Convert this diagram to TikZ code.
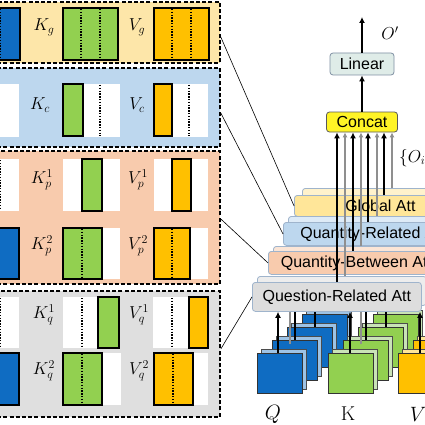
\documentclass[tikz,border=0pt]{standalone}
\usepackage{fontspec}
\newfontfamily\arialf{Liberation Sans}
\usetikzlibrary{arrows.meta}
\definecolor{pY}{HTML}{FDE6A9}
\definecolor{pB}{HTML}{BDD7EE}
\definecolor{pO}{HTML}{F8CBAD}
\definecolor{pG}{HTML}{DFDFDF}
\definecolor{cB}{HTML}{0F6CC2}
\definecolor{cBl}{HTML}{9DC3E6}
\definecolor{cG}{HTML}{92D050}
\definecolor{cGl}{HTML}{C9E3B6}
\definecolor{cO}{HTML}{FFC000}
\definecolor{cOl}{HTML}{FFE699}
\definecolor{mYF}{HTML}{FFE699}
\definecolor{mYB}{HTML}{FFF2CC}
\definecolor{mBF}{HTML}{BDD7EE}
\definecolor{mBB}{HTML}{DEEBF7}
\definecolor{mOF}{HTML}{F8CBAD}
\definecolor{mOB}{HTML}{FBE5D6}
\definecolor{mGF}{HTML}{DDDDDD}
\definecolor{mGB}{HTML}{EDEDED}
\definecolor{edge}{HTML}{9FB4CC}
\definecolor{linF}{HTML}{DFECE8}
\definecolor{grayL}{HTML}{8F8F8F}
\newcommand\myW[4]{\fill[white] (#1,#2) rectangle (#3,#4);}
\newcommand\myC[5]{\draw[bar,fill=#5] (#1,#2) rectangle (#3,#4);}
\newcommand\myD[3]{\draw[dots] (#1,#2) -- (#1,#3);}
\begin{document}
\begin{tikzpicture}[x=1pt,y=-1pt,
  panel/.style={draw=black, line width=1.8pt, dash pattern=on 4pt off 2.2pt, rectangle, anchor=north west, inner sep=0pt},
  bar/.style={draw=black, line width=1.5pt},
  dots/.style={line width=1.7pt, dash pattern=on 1.4pt off 1.4pt},
  lab/.style={font=\fontsize{18}{20}\selectfont, inner sep=0pt},
  blab/.style={font=\fontsize{20}{22}\selectfont, inner sep=0pt},
  mod/.style={draw=edge, line width=0.8pt, rounded corners=3pt, anchor=north west, inner sep=0pt, font=\arialf\fontsize{16}{18}\selectfont},
  sq/.style={draw=black!80, line width=0.5pt, anchor=north west, minimum width=45pt, minimum height=40pt, inner sep=0pt},
  arr/.style={line width=2pt, -{Latex[length=6pt,width=6pt]}},
  garr/.style={line width=1.7pt, draw=grayL, -{Latex[length=5pt,width=5pt]}},
  conn/.style={line width=0.6pt, black}]
\useasboundingbox (0,0) rectangle (425,425);
\clip (0,0) rectangle (425,425);
\fill[white] (0,0) rectangle (425,425);

% ---------- left panels ----------
\node[panel, fill=pY, minimum width=229pt, minimum height=61pt] (P1) at (-10,1) {};
\node[panel, fill=pB, minimum width=229pt, minimum height=79pt] (P2) at (-10,67) {};
\node[panel, fill=pO, minimum width=229pt, minimum height=133pt] (P3) at (-10,150) {};
\node[panel, fill=pG, minimum width=229pt, minimum height=126pt] (P4) at (-10,290) {};

% panel 1
\myC{-5}{8}{20}{60}{cB} \myD{0}{9}{59}
\myC{63}{8}{118}{60}{cG} \myD{81}{9}{59} \myD{100}{9}{59}
\myC{154}{8}{209}{60}{cO} \myD{172}{9}{59} \myD{191}{9}{59}
\node[lab] (kg) at (44,27) {$K_g$};
\node[lab] (vg) at (137,27) {$V_g$};

% panel 2
\myW{-5}{84}{19}{137}
\myW{63}{84}{120}{137} \myC{63}{84}{83}{136}{cG} \myD{100}{85}{136}
\myW{154}{84}{208}{137} \myC{154}{84}{172}{136}{cO} \myD{189}{85}{136}
\node[lab] (kc) at (40,105) {$K_c$};
\node[lab] (vc) at (137,105) {$V_c$};

% panel 3
\myW{-5}{159}{19}{211} \myD{0}{160}{210}
\myW{63}{159}{120}{211} \myC{82}{159}{102}{211}{cG}
\myW{154}{159}{208}{211} \myC{172}{159}{191}{211}{cO}
\node[lab] (kp1) at (42,180) {$K_p^1$};
\node[lab] (vp1) at (138,180) {$V_p^1$};
\myC{-5}{228}{19}{279}{cB}
\myW{63}{228}{120}{279} \myC{63}{228}{102}{279}{cG} \myD{82}{229}{278}
\myW{154}{228}{208}{279} \myC{154}{228}{190}{279}{cO} \myD{172}{229}{278}
\node[lab] (kp2) at (42,246) {$K_p^2$};
\node[lab] (vp2) at (138,246) {$V_p^2$};

% panel 4
\myW{-5}{297}{19}{348} \myD{0}{298}{347}
\myW{63}{297}{120}{348} \myD{82}{298}{347} \myC{98}{297}{119}{348}{cG}
\myW{153}{297}{208}{348} \myD{172}{298}{347} \myC{189}{297}{208}{348}{cO}
\node[lab] (kq1) at (44,315) {$K_q^1$};
\node[lab] (vq1) at (139,315) {$V_q^1$};
\myC{-5}{353}{19}{405}{cB}
\myW{63}{353}{121}{405} \myC{63}{353}{102}{405}{cG} \myD{82}{354}{404}
\myW{154}{353}{208}{405} \myC{154}{353}{193}{405}{cO} \myD{173}{354}{404}
\node[lab] (kq2) at (44,371) {$K_q^2$};
\node[lab] (vq2) at (139,371) {$V_q^2$};

% ---------- stacks of Q, K, V ----------
\foreach \sx/\dk/\lt in {257/cB/cBl, 328/cG/cGl, 398/cO/cOl}{
  \foreach \k in {3,2,1}{
    \fill[\lt, draw=black!70, line width=0.4pt] (\sx+15*\k+4, 349-13*\k) rectangle ++(45,40);
    \fill[\dk, draw=black!80, line width=0.5pt] (\sx+15*\k, 353-13*\k) rectangle ++(45,40);
  }
  \fill[\lt, draw=black!70, line width=0.4pt] (\sx+4, 349) rectangle ++(45,40);
}
\node[sq, fill=cB] (qs) at (257,353) {};
\node[sq, fill=cG] (ks) at (328,353) {};
\node[sq, fill=cO] (vs) at (398,353) {};

% lines from back squares (mostly hidden behind the module)
\foreach \sx in {257,328,398}{
  \draw[line width=1.6pt, grayL] (\sx+33, 344) -- (\sx+33, 300);
  \draw[line width=1.8pt] (\sx+38, 340) -- (\sx+38, 300);
  \draw[line width=1.8pt] (\sx+58, 327) -- (\sx+58, 300);
}

% ---------- attention modules ----------
\node[mod, fill=mYB, minimum width=172pt, minimum height=21pt] (gB) at (302,188) {};
\node[mod, fill=mYF, minimum width=172pt, minimum height=21pt] (gF) at (294,195) {Global Att};
\node[mod, fill=mBB, minimum width=178pt, minimum height=23pt] (rB) at (288,216) {};
\node[mod, fill=mBF, minimum width=178pt, minimum height=23pt] (rF) at (283,222) {Quantity-Related Att};
\node[mod, fill=mOB, minimum width=174pt, minimum height=23pt] (bB) at (273,246) {};
\node[mod, fill=mOF, minimum width=176pt, minimum height=23pt] (bF) at (268,251) {Quantity-Between Att};
\node[mod, fill=mGB, minimum width=169pt, minimum height=29pt] (qB) at (257,276) {};
\node[mod, fill=mGF, minimum width=169pt, minimum height=29pt] (qF) at (252,282) {Question-Related Att};

% inputs to Question-Related Att
\draw[arr] (qs.north -| 278,0) -- (qF.south -| 278,0);
\draw[arr] (ks.north -| 350,0) -- (qF.south -| 350,0);
\draw[arr] (vs.north -| 420,0) -- (qF.south -| 420,0);

% ---------- concat / linear ----------
\node[draw=black!65, line width=0.8pt, rounded corners=3pt, fill=yellow!85!white, minimum width=71pt, minimum height=20pt, inner sep=0pt, font=\arialf\fontsize{16}{18}\selectfont] (cat) at (362,122) {Concat};
\node[draw=edge!80!black, line width=0.8pt, rounded corners=3pt, fill=linF, minimum width=64pt, minimum height=22pt, inner sep=0pt, font=\arialf\fontsize{16}{18}\selectfont] (lin) at (362,64) {Linear};
\coordinate (out) at (362,17);
\draw[arr] (cat) -- (lin);
\draw[arr] (lin) -- (out);
\node[lab] (op) at (390,33) {$O'$};
\node[lab, anchor=west] (oi) at (399,158) {$\{O_i\}$};

% outputs of modules to concat
\draw[garr] (qB.north -| 345,0) -- (cat.south -| 345,0);
\draw[garr] (bB.north -| 361,0) -- (cat.south -| 361,0);
\draw[garr] (rB.north -| 377,0) -- (cat.south -| 377,0);
\draw[garr] (gB.north -| 392,0) -- (cat.south -| 392,0);
\draw[arr] (qF.north -| 337,0) -- (cat.south -| 337,0);
\draw[arr] (bF.north -| 353,0) -- (cat.south -| 353,0);
\draw[arr] (rF.north -| 368,0) -- (cat.south -| 368,0);
\draw[arr] (gF.north -| 384,0) -- (cat.south -| 384,0);

% ---------- panel to module connectors ----------
\draw[conn] (P1.east |- 0,37) -- (gF.west);
\draw[conn] (P2.east |- 0,113) -- (rF.west);
\draw[conn] (P3.east |- 0,219) -- (bF.west);
\draw[conn] (P4.east |- 0,349) -- (qF.west);

% ---------- input labels ----------
\node[blab] (ql) at (273,414) {$Q$};
\node[blab] (kl) at (348,414) {K};
\node[blab] (vl) at (418,414) {$V$};
\end{tikzpicture}
\end{document}
